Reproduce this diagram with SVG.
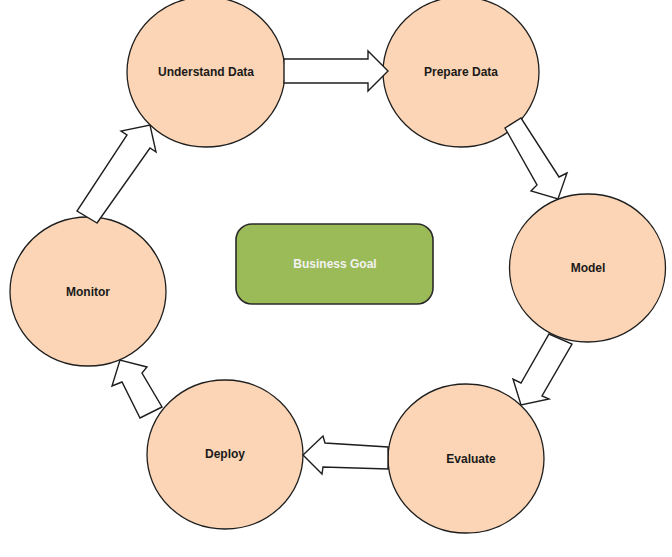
<svg xmlns="http://www.w3.org/2000/svg" width="672" height="557" viewBox="0 0 672 557">
<style>
.node{fill:#FBD5B5;stroke:#1e1e1e;stroke-width:1.3}
.lbl{font-family:"Liberation Sans",Arial,sans-serif;font-size:12px;font-weight:bold;fill:#1a1a1a;text-anchor:middle;dominant-baseline:central}
.arrow{fill:#ffffff;stroke:#1e1e1e;stroke-width:1.4;stroke-linejoin:miter}
.goal{fill:#9BBB59;stroke:#2a2a2a;stroke-width:1.6}
.goaltxt{font-family:"Liberation Sans",Arial,sans-serif;font-size:12px;font-weight:bold;fill:#F2F2F2;text-anchor:middle;dominant-baseline:central}
</style>
<rect width="672" height="557" fill="#ffffff"/>
<g id="node-understand"><ellipse class="node" cx="206" cy="72" rx="79" ry="75"/><text class="lbl" x="206" y="72">Understand Data</text></g>
<g id="node-prepare"><ellipse class="node" cx="461" cy="72" rx="78" ry="75"/><text class="lbl" x="461" y="72">Prepare Data</text></g>
<g id="node-model"><ellipse class="node" cx="587.5" cy="268" rx="78" ry="74"/><text class="lbl" x="588" y="268">Model</text></g>
<g id="node-evaluate"><ellipse class="node" cx="466" cy="458.5" rx="78" ry="74.5"/><text class="lbl" x="471" y="459">Evaluate</text></g>
<g id="node-deploy"><ellipse class="node" cx="225" cy="454.5" rx="78" ry="74.5"/><text class="lbl" x="225" y="454">Deploy</text></g>
<g id="node-monitor"><ellipse class="node" cx="88" cy="291.5" rx="78" ry="74.5"/><text class="lbl" x="88" y="292">Monitor</text></g>
<g id="node-goal"><rect class="goal" x="236" y="224" width="197" height="80" rx="16" ry="16"/><text class="goaltxt" x="335" y="264">Business Goal</text></g>
<g id="connectors">
<polygon class="arrow" points="284,59 368,59 368,51 388,71 368,91 368,83 284,83"/>
<polygon class="arrow" points="505,128 521,118 559,177 567,173 558,199 531,191 537,185"/>
<polygon class="arrow" points="549,334 572,344 542,396 549,399 521,405 513,379 521,383"/>
<polygon class="arrow" points="388,447 388,469 323,467 322,474 303,455 323,436 325,443"/>
<polygon class="arrow" points="162,407 140,418 122,382 112,386 120,360 147,367 142,373"/>
<polygon class="arrow" points="97,223 77,211 127,135 121,131 150,125 156,152 150,148"/>
</g>
</svg>
